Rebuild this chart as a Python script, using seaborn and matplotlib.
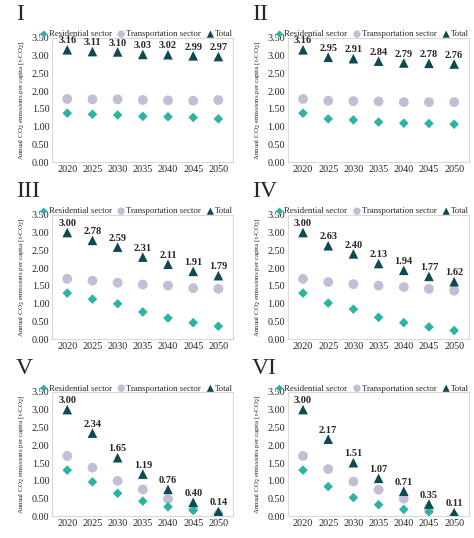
import numpy as np
import matplotlib.pyplot as plt
import seaborn as sns
import pandas as pd

sns.set_style("white")
plt.rcParams['font.family'] = ['Liberation Serif', 'DejaVu Serif']

years = [2020, 2025, 2030, 2035, 2040, 2045, 2050]
panels = ['I', 'II', 'III', 'IV', 'V', 'VI']

residential = {
    'I':   [1.38, 1.35, 1.33, 1.29, 1.28, 1.26, 1.22],
    'II':  [1.38, 1.22, 1.19, 1.13, 1.10, 1.09, 1.07],
    'III': [1.30, 1.13, 1.00, 0.77, 0.60, 0.47, 0.37],
    'IV':  [1.30, 1.02, 0.85, 0.62, 0.47, 0.35, 0.25],
    'V':   [1.30, 0.97, 0.65, 0.43, 0.27, 0.17, 0.07],
    'VI':  [1.30, 0.84, 0.53, 0.33, 0.20, 0.13, 0.03],
}
transport = {
    'I':   [1.78, 1.77, 1.77, 1.75, 1.74, 1.73, 1.75],
    'II':  [1.78, 1.73, 1.72, 1.71, 1.69, 1.69, 1.69],
    'III': [1.70, 1.65, 1.59, 1.54, 1.51, 1.44, 1.42],
    'IV':  [1.70, 1.61, 1.55, 1.51, 1.47, 1.42, 1.37],
    'V':   [1.70, 1.37, 1.00, 0.76, 0.49, 0.23, 0.07],
    'VI':  [1.70, 1.33, 0.98, 0.75, 0.50, 0.22, 0.00],
}
total = {
    'I':   [3.16, 3.11, 3.10, 3.03, 3.02, 2.99, 2.97],
    'II':  [3.16, 2.95, 2.91, 2.84, 2.79, 2.78, 2.76],
    'III': [3.00, 2.78, 2.59, 2.31, 2.11, 1.91, 1.79],
    'IV':  [3.00, 2.63, 2.40, 2.13, 1.94, 1.77, 1.62],
    'V':   [3.00, 2.34, 1.65, 1.19, 0.76, 0.40, 0.14],
    'VI':  [3.00, 2.17, 1.51, 1.07, 0.71, 0.35, 0.11],
}

c_res = '#2bb3a3'
c_tr = '#c3bdd6'
c_tot = '#0d4a52'

fig, axes = plt.subplots(3, 2, figsize=(4.74, 5.38), dpi=100)
for ax, p in zip(axes.flat, panels):
    df = pd.DataFrame({'year': [str(y) for y in years],
                       'res': residential[p], 'tr': transport[p], 'tot': total[p]})
    sns.scatterplot(data=df, x='year', y='tr', ax=ax, color=c_tr, marker='o', s=50,
                    edgecolor='none', label='Transportation sector', zorder=3)
    sns.scatterplot(data=df, x='year', y='res', ax=ax, color=c_res, marker='D', s=24,
                    edgecolor='none', label='Residential sector', zorder=4)
    sns.scatterplot(data=df, x='year', y='tot', ax=ax, color=c_tot, marker='^', s=48,
                    edgecolor='none', label='Total', zorder=5)
    for i, v in enumerate(total[p]):
        ax.text(i, v + 0.12, f'{v:.2f}', ha='center', va='bottom', fontsize=7.5, fontweight='bold')
    ax.set_ylim(0, 3.5)
    ax.set_yticks(np.arange(0, 3.51, 0.5))
    ax.set_yticklabels([f'{t:.2f}' for t in np.arange(0, 3.51, 0.5)])
    ax.set_xlim(-0.6, 6.6)
    ax.set_xlabel('')
    ax.set_ylabel('Annual CO$_2$ emissions per capita [t-CO$_2$]', fontsize=5)
    ax.tick_params(labelsize=7.3, length=0, pad=2)
    for s in ax.spines.values():
        s.set_color('#d9d9d9')
    h, l = ax.get_legend_handles_labels()
    order = [1, 0, 2]
    ax.legend([h[i] for i in order], [l[i] for i in order], loc='lower left',
              bbox_to_anchor=(-0.08, 0.98), ncol=3, frameon=False, fontsize=6.3,
              handletextpad=0.05, columnspacing=0.6, handlelength=1.0,
              borderpad=0.1, borderaxespad=0.1, markerscale=0.75)
    ax.text(-0.2, 1.1, p, transform=ax.transAxes, fontsize=17, ha='left', va='bottom')

plt.subplots_adjust(left=0.11, right=0.99, top=0.93, bottom=0.04, wspace=0.3, hspace=0.42)
fig.savefig('out.png', dpi=100)
